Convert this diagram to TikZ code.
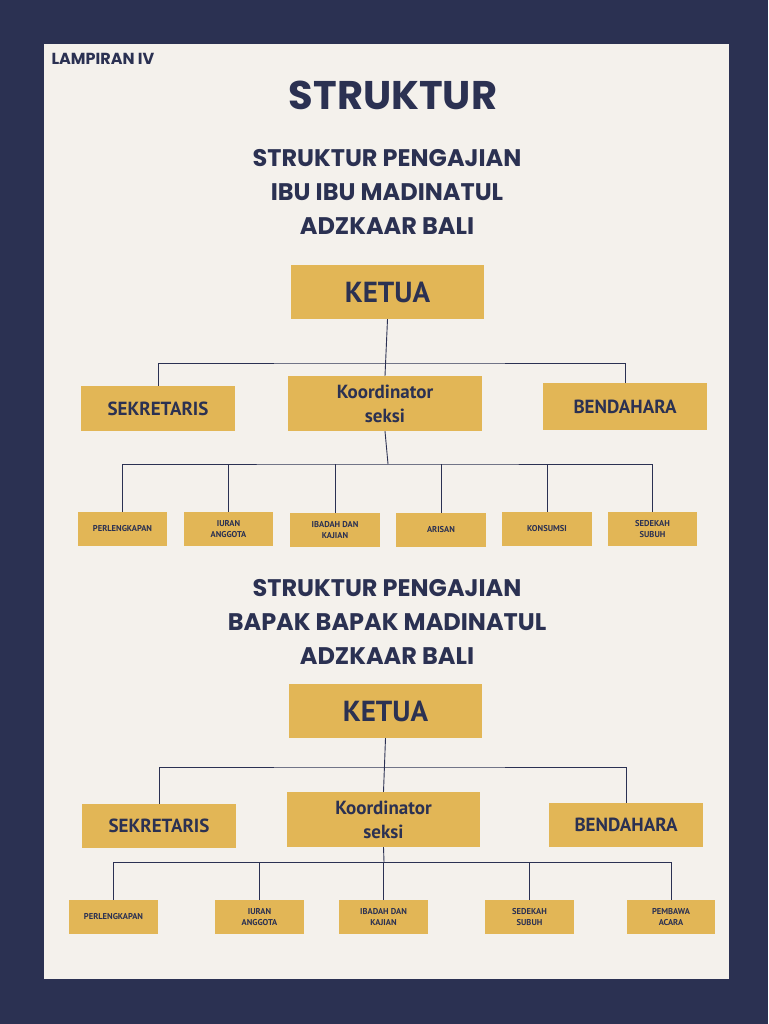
\documentclass[tikz,border=0pt]{standalone}
\usepackage{fontspec}
\setmainfont{PT Sans}
\newfontfamily\headf{Poppins}
\definecolor{navy}{HTML}{2B3152}
\definecolor{panel}{HTML}{F4F1EC}
\definecolor{gold}{HTML}{E2B656}
\begin{document}
\begin{tikzpicture}[x=1pt,y=-1pt,
  bx/.style={fill=gold,inner sep=0pt,text=navy,font=\bfseries,align=center},
  big/.style={bx,font=\fontsize{29}{31}\selectfont\bfseries},
  mid/.style={bx,font=\fontsize{19}{24}\selectfont\bfseries},
  sm/.style={bx,font=\fontsize{8.5}{11}\selectfont\bfseries},
  ln/.style={draw=navy,line width=0.9pt},
  hd/.style={text=navy,font=\headf\bfseries,align=center}]
\fill[navy] (0,0) rectangle (768,1024);
\fill[panel] (44,44) rectangle (729,979);
\useasboundingbox (0,0) rectangle (768,1024);
\newcommand\bx[7]{\node[#7,minimum width={#4-#2},minimum height={#5-#3}] (#1) at ({(#2+#4)/2},{(#3+#5)/2}) {#6};}
\node[hd,anchor=west,font=\headf\bfseries\fontsize{16}{18}\selectfont] (lamp) at (48,59) {LAMPIRAN IV};
\node[hd,font=\headf\bfseries\fontsize{40}{44}\selectfont] (title) at (393,95) {STRUKTUR};
\node[hd,font=\headf\bfseries\fontsize{24}{34}\selectfont] (sub1) at (387,192) {STRUKTUR PENGAJIAN\\IBU IBU MADINATUL\\ADZKAAR BALI};
\node[hd,font=\headf\bfseries\fontsize{24}{34}\selectfont] (sub2) at (387,622) {STRUKTUR PENGAJIAN\\BAPAK BAPAK MADINATUL\\ADZKAAR BALI};
% top tree
\bx{k1}{291}{265}{484}{319}{KETUA}{big}
\bx{s1}{81}{386}{235}{431}{SEKRETARIS}{mid}
\bx{c1}{288}{376}{482}{431}{Koordinator\\seksi}{mid}
\bx{b1}{543}{383}{707}{430}{BENDAHARA}{mid}
\coordinate (h1) at (387,363);
\draw[ln] (k1.south) -- (c1.north);
\draw[ln] (s1.north) |- (h1) -| (b1.north);
\bx{a1}{78}{512}{167}{546}{PERLENGKAPAN}{sm}
\bx{a2}{184}{512}{273}{546}{IURAN\\ANGGOTA}{sm}
\bx{a3}{290}{513}{380}{547}{IBADAH DAN\\KAJIAN}{sm}
\bx{a4}{396}{513}{486}{547}{ARISAN}{sm}
\bx{a5}{502}{512}{592}{546}{KONSUMSI}{sm}
\bx{a6}{608}{512}{697}{546}{SEDEKAH\\SUBUH}{sm}
\coordinate (j1) at (388,464);
\draw[ln] (c1.south) -- (j1);
\draw[ln] (a1.north) |- (j1) -| (a6.north);
\foreach \n in {a2,a3,a4,a5} \draw[ln] (\n.north) -- (\n.north |- j1);
% bottom tree
\bx{k2}{289}{684}{482}{738}{KETUA}{big}
\bx{s2}{82}{804}{236}{848}{SEKRETARIS}{mid}
\bx{c2}{287}{792}{480}{847}{Koordinator\\seksi}{mid}
\bx{b2}{549}{803}{703}{847}{BENDAHARA}{mid}
\coordinate (h2) at (386,767);
\draw[ln] (k2.south) -- (c2.north);
\draw[ln] (s2.north) |- (h2) -| (b2.north);
\bx{d1}{69}{900}{158}{934}{PERLENGKAPAN}{sm}
\bx{d2}{215}{900}{304}{934}{IURAN\\ANGGOTA}{sm}
\bx{d3}{339}{900}{428}{934}{IBADAH DAN\\KAJIAN}{sm}
\bx{d4}{485}{900}{574}{934}{SEDEKAH\\SUBUH}{sm}
\bx{d5}{627}{900}{715}{934}{PEMBAWA\\ACARA}{sm}
\coordinate (j2) at (384,862);
\draw[ln] (c2.south) -- (j2);
\draw[ln] (d1.north) |- (j2) -| (d5.north);
\foreach \n in {d2,d3,d4} \draw[ln] (\n.north) -- (\n.north |- j2);
\end{tikzpicture}
\end{document}
